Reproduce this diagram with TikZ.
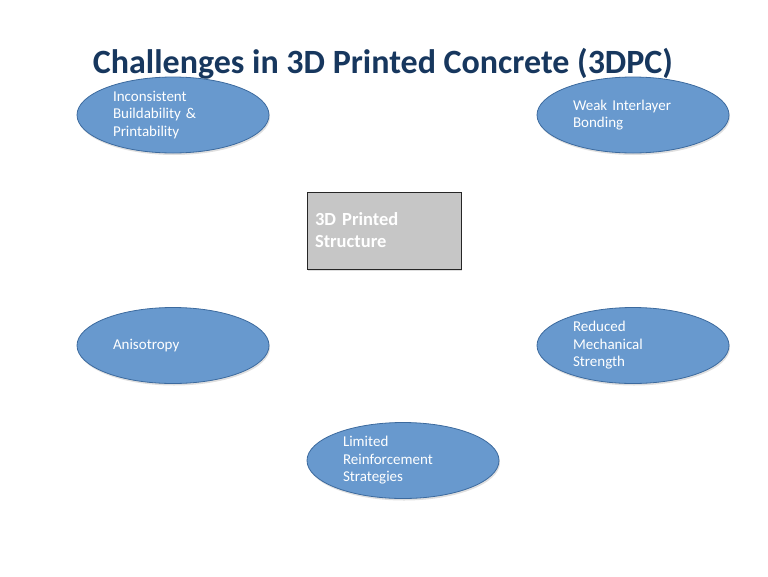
\documentclass[tikz,border=0pt]{standalone}
\usepackage{fontspec}
\setmainfont{Carlito}
\usetikzlibrary{shapes.geometric,shadows}
\definecolor{titleblue}{HTML}{17375E}
\definecolor{bubblefill}{HTML}{6899CE}
\definecolor{bubbleline}{HTML}{3C6A9E}
\definecolor{boxfill}{HTML}{C6C6C6}
\begin{document}
\begin{tikzpicture}[x=1pt,y=-1pt,
    challenge/.style={ellipse,draw=bubbleline,thick,fill=bubblefill,
      minimum width=192pt,minimum height=76pt,inner sep=0pt,
      text width=120pt,align=left,text=white,
      font=\fontsize{15}{17.5}\selectfont,
      drop shadow={opacity=0.25,shadow xshift=1pt,shadow yshift=-2pt}},
    core/.style={rectangle,draw=black!85,fill=boxfill,
      minimum width=154pt,minimum height=77pt,inner sep=0pt,
      text width=138pt,align=left,text=white,
      font=\fontsize{18.5}{22}\selectfont\bfseries,
      drop shadow={opacity=0.25,shadow xshift=1pt,shadow yshift=-2pt}}]
    \useasboundingbox (0,0) rectangle (768,576);
    % ---- title ----
    \node[text=titleblue,font=\fontsize{34}{40}\selectfont\bfseries] (title) at (383,64)
      {Challenges in 3D Printed Concrete (3DPC)};
    % ---- centre ----
    \node[core] (structure) at (384,230.5) {3D Printed\\Structure};
    % ---- challenges ----
    \node[challenge] (build) at (173,115) {Inconsistent\\Buildability \&\\Printability};
    \node[challenge] (bond) at (633,115) {Weak Interlayer\\Bonding};
    \node[challenge] (aniso) at (173,345.5) {Anisotropy};
    \node[challenge] (strength) at (633,345.5) {Reduced\\Mechanical\\Strength};
    \node[challenge] (reinf) at (403,460.5) {Limited\\Reinforcement\\Strategies};
  \end{tikzpicture}
\end{document}
